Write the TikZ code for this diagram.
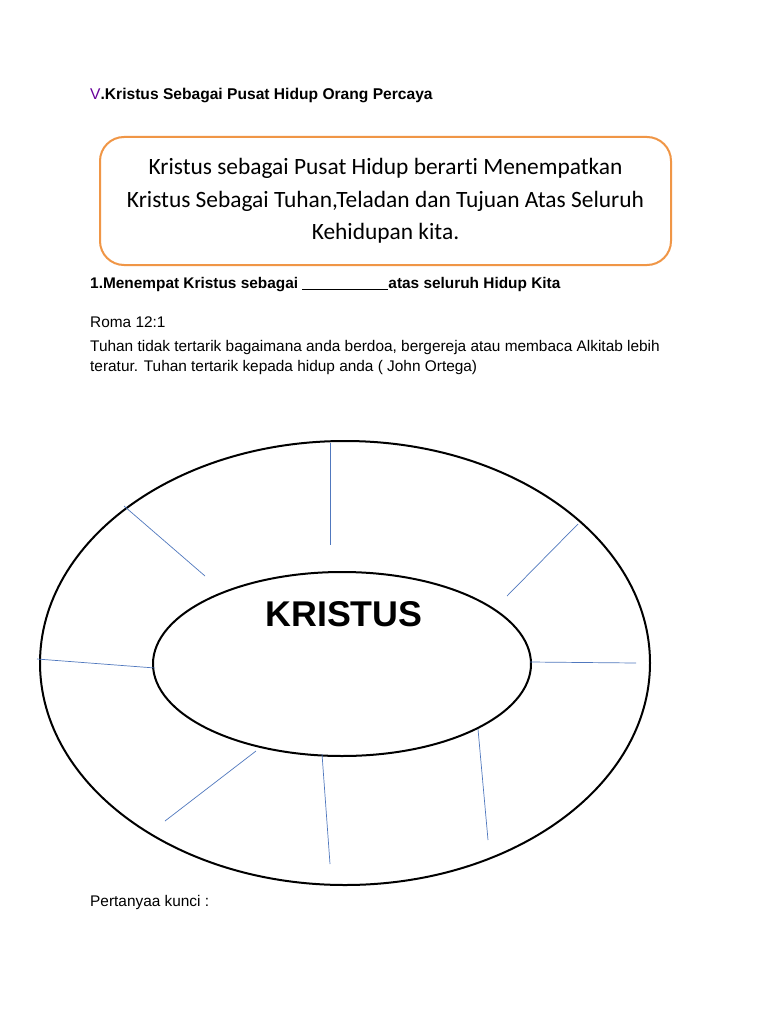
\documentclass[tikz,border=0pt]{standalone}
\usepackage{fontspec}
\usetikzlibrary{shapes.geometric}
\setmainfont{Liberation Sans}
\newfontfamily\calfont[Ligatures={NoCommon}]{Carlito}
\begin{document}
\begin{tikzpicture}[x=1pt,y=-1pt,
  txt/.style={anchor=west,inner sep=0pt,font=\fontsize{15.4}{19}\selectfont},
  spoke/.style={draw={rgb,255:red,80;green,120;blue,190},line width=0.7pt}]
\useasboundingbox (0,0) rectangle (768,1024);
\fill[white] (0,0) rectangle (768,1024);
\node[txt,font=\fontsize{15.6}{19}\selectfont\bfseries] (title) at (90,96) {\textcolor{violet!80!blue}{\mdseries V}.Kristus Sebagai Pusat Hidup Orang Percaya};
\node[draw={rgb,255:red,240;green,150;blue,70},line width=2pt,rounded corners=24pt,minimum width=571pt,minimum height=128pt,align=center,font=\calfont\fontsize{23.4}{32.5}\selectfont] (box) at (385.5,201) {Kristus sebagai Pusat Hidup berarti Menempatkan\\Kristus Sebagai Tuhan,Teladan dan Tujuan Atas Seluruh\\Kehidupan kita.};
\node[txt,font=\fontsize{15.4}{19}\selectfont\bfseries] (q1) at (90,285) {1.Menempat Kristus sebagai \rule[-1.5pt]{86pt}{1pt}atas seluruh Hidup Kita};
\node[txt] (roma) at (90,322) {Roma 12:1};
\node[txt,align=left,font=\fontsize{15.4}{19.5}\selectfont] (par) at (90,357.5) {Tuhan tidak tertarik bagaimana anda berdoa, bergereja atau membaca Alkitab lebih\\teratur. Tuhan tertarik kepada hidup anda ( John Ortega)};
\node[draw,line width=2pt,ellipse,minimum width=610pt,minimum height=444pt,inner sep=0pt] (outer) at (345,663) {};
\node[draw,line width=2pt,ellipse,minimum width=378pt,minimum height=184pt,inner sep=0pt] (inner) at (342,664) {};
\node (kr) at (344,614) {\fontsize{35.8}{40}\selectfont\bfseries KRISTUS};
\draw[spoke] (330,443) -- (330,545);
\draw[spoke] (124,506) -- (205,576);
\draw[spoke] (578,524) -- (507,596);
\draw[spoke] (37,659) -- (155,668);
\draw[spoke] (530,662) -- (636,663);
\draw[spoke] (256,751) -- (165,821);
\draw[spoke] (322,754) -- (330,864);
\draw[spoke] (478,729) -- (488,840);
\node[txt] (pk) at (90,903) {Pertanyaa kunci :};
\end{tikzpicture}
\end{document}
